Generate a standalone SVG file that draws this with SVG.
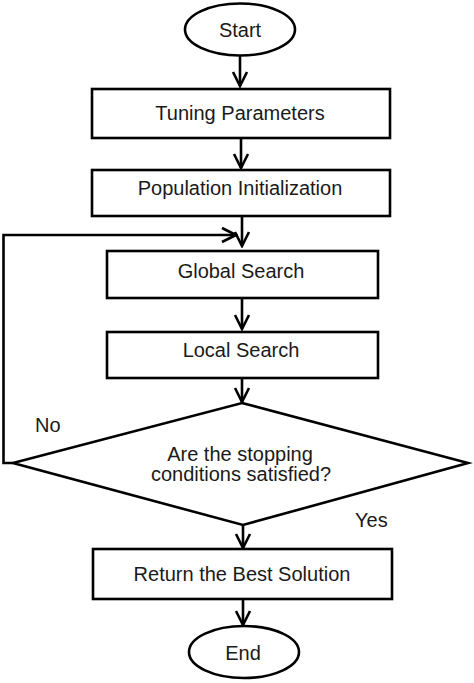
<svg xmlns="http://www.w3.org/2000/svg" width="474" height="683" viewBox="0 0 474 683">
<defs>
<style>
.n{fill:#fff;stroke:#000;stroke-width:2.6}
.t{font-family:"Liberation Sans",Arial,sans-serif;font-size:20px;fill:#1a1a1a;text-anchor:middle}
.l{font-family:"Liberation Sans",Arial,sans-serif;font-size:20px;fill:#1a1a1a}
.c{fill:none;stroke:#000;stroke-width:2.6}
</style>
<marker id="a" viewBox="-16 -9 18 18" refX="0" refY="0" markerWidth="18" markerHeight="18" markerUnits="userSpaceOnUse" orient="auto">
<path d="M-14,-7 L0,0 L-14,7" fill="none" stroke="#000" stroke-width="2.6"/>
</marker>
</defs>
<rect width="474" height="683" fill="#fff"/>
<g id="connectors">
<line class="c" x1="240" y1="56" x2="240" y2="86" marker-end="url(#a)"/>
<line class="c" x1="241" y1="138" x2="241" y2="168" marker-end="url(#a)"/>
<line class="c" x1="242" y1="216" x2="242" y2="246" marker-end="url(#a)"/>
<polyline class="c" points="13,463 3.5,463 3.5,235 236,235" marker-end="url(#a)"/>
<line class="c" x1="242" y1="298" x2="242" y2="329" marker-end="url(#a)"/>
<line class="c" x1="242" y1="378" x2="242" y2="402" marker-end="url(#a)"/>
<line class="c" x1="243" y1="525" x2="243" y2="548" marker-end="url(#a)"/>
<line class="c" x1="243" y1="599" x2="243" y2="625" marker-end="url(#a)"/>
<text class="l" x="35" y="432">No</text>
<text class="l" x="355" y="527">Yes</text>
</g>
<g id="start">
<ellipse class="n" cx="240" cy="29.5" rx="55" ry="26"/>
<text class="t" x="240" y="37">Start</text>
</g>
<g id="tuning">
<rect class="n" x="92" y="89" width="298" height="49"/>
<text class="t" x="240" y="120">Tuning Parameters</text>
</g>
<g id="population">
<rect class="n" x="92" y="170" width="298" height="46"/>
<text class="t" x="240" y="195">Population Initialization</text>
</g>
<g id="global">
<rect class="n" x="107" y="251" width="271" height="47"/>
<text class="t" x="241" y="278">Global Search</text>
</g>
<g id="local">
<rect class="n" x="107" y="332" width="271" height="46"/>
<text class="t" x="241" y="357">Local Search</text>
</g>
<g id="decision">
<polygon class="n" points="242,403 468,463 243,525 13,463"/>
<text class="t" x="240" y="461">Are the stopping</text>
<text class="t" x="241" y="481">conditions satisfied?</text>
</g>
<g id="return">
<rect class="n" x="93" y="549" width="299" height="50"/>
<text class="t" x="242" y="581">Return the Best Solution</text>
</g>
<g id="end">
<ellipse class="n" cx="244" cy="652" rx="55" ry="26"/>
<text class="t" x="243" y="660">End</text>
</g>
</svg>
